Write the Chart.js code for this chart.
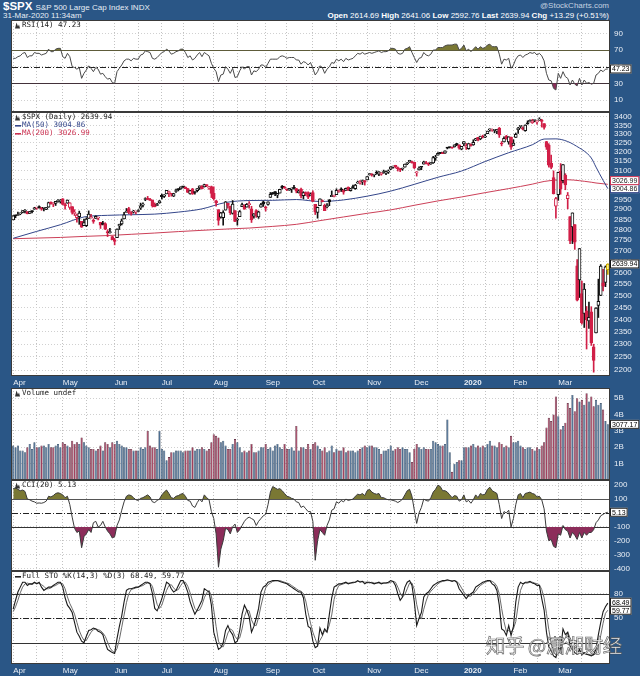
<!DOCTYPE html>
<html><head><meta charset="utf-8">
<script src="https://cdn.jsdelivr.net/npm/chart.js@4.4.1/dist/chart.umd.min.js"></script>
<style>
 html,body{margin:0;padding:0}
 body{width:640px;height:676px;position:relative;overflow:hidden;background:#2a5686;font-family:"Liberation Sans",Arial,sans-serif}
 canvas{position:absolute;left:0}
 .t{position:absolute;color:#fff;white-space:nowrap;line-height:1}
 .wm{position:absolute;left:486px;top:635px;font-family:"Noto Sans CJK SC",sans-serif;font-size:19.5px;line-height:1;white-space:nowrap;
     color:rgba(255,255,255,0.88);-webkit-text-stroke:0.7px rgba(70,70,70,0.8);letter-spacing:-0.5px}
</style></head><body>
<div class="t" style="left:3px;top:1px;font-size:11.5px;font-weight:bold">$SPX <span style="font-size:8px;font-weight:normal;color:#e8eef5">S&amp;P 500 Large Cap Index INDX</span></div>
<div class="t" style="left:3px;top:12px;font-size:8px;color:#e8eef5">31-Mar-2020 11:34am</div>
<div class="t" style="right:31px;top:2px;font-size:8px;color:#c5d2e0">@StockCharts.com</div>
<div class="t" style="right:31px;top:12px;font-size:8px"><b>Open</b> 2614.69 <b>High</b> 2641.06 <b>Low</b> 2592.76 <b>Last</b> 2639.94 <b>Chg</b> +13.29 (+0.51%)</div>
<canvas id="cRsi" width="640" height="92" style="top:20px"></canvas>
<canvas id="cPrice" width="640" height="276" style="top:112px"></canvas>
<canvas id="cVol" width="640" height="92" style="top:388px"></canvas>
<canvas id="cCci" width="640" height="91" style="top:480px"></canvas>
<canvas id="cSto" width="640" height="105" style="top:571px"></canvas>
<div class="wm">知乎 @潇湘财经</div>
<script>
// ---------- categories ----------
const months = ['Apr','May','Jun','Jul','Aug','Sep','Oct','Nov','Dec','2020','Feb','Mar'];
const tradingDays = [
  [1,2,3,4,5,8,9,10,11,12,15,16,17,18,22,23,24,25,26,29,30],
  [1,2,3,6,7,8,9,10,13,14,15,16,17,20,21,22,23,24,28,29,30,31],
  [3,4,5,6,7,10,11,12,13,14,17,18,19,20,21,24,25,26,27,28],
  [1,2,3,5,8,9,10,11,12,15,16,17,18,19,22,23,24,25,26,29,30,31],
  [1,2,5,6,7,8,9,12,13,14,15,16,19,20,21,22,23,26,27,28,29,30],
  [3,4,5,6,9,10,11,12,13,16,17,18,19,20,23,24,25,26,27,30],
  [1,2,3,4,7,8,9,10,11,14,15,16,17,18,21,22,23,24,25,28,29,30,31],
  [1,4,5,6,7,8,11,12,13,14,15,18,19,20,21,22,25,26,27,29],
  [2,3,4,5,6,9,10,11,12,13,16,17,18,19,20,23,24,26,27,30,31],
  [2,3,6,7,8,9,10,13,14,15,16,17,21,22,23,24,27,28,29,30,31],
  [3,4,5,6,7,10,11,12,13,14,18,19,20,21,24,25,26,27,28],
  [2,3,4,5,6,9,10,11,12,13,16,17,18,19,20,23,24,25,26,27,30,31]
];

// ---------- price (daily OHLC) ----------
const open = [
 2848,2868,2869,2877,2884,2889,2888,2879,2891,2901,2906,2913,2909,2905,2899,2910,2935,2925,2929,2940,2938,
 2952,2922,2930,2909,2913,2880,2859,2863,2840,2820,2820,2855,2858,2841,2855,2856,2836,2832,2830,2791,2786,2767,
 2752,2762,2818,2828,2852,2885,2903,2882,2886,2887,2889,2906,2920,2949,2952,2951,2945,2926,2919,2932,
 2971,2965,2978,2984,2979,2966,2990,3004,3003,3017,3013,3005,2978,3004,2987,2994,3009,3018,3013,3024,3007,3016,
 2981,2943,2898,2861,2858,2896,2930,2916,2880,2894,2846,2864,2913,2920,2911,2923,2902,2866,2893,2862,2910,2938,
 2910,2924,2960,2980,2989,2971,2982,3018,3013,3002,2997,3002,3008,3005,2984,3002,2969,2985,2985,2968,
 2984,2925,2885,2918,2944,2920,2912,2947,2964,2965,2974,2990,3000,2996,2996,3011,2994,3014,3004,3033,3036,3040,3046,
 3050,3078,3080,3076,3087,3081,3081,3089,3085,3091,3107,3118,3128,3115,3109,3108,3118,3136,3146,3148,
 3144,3087,3104,3120,3134,3141,3135,3136,3141,3167,3183,3195,3196,3193,3223,3227,3225,3228,3247,3240,3215,
 3245,3226,3218,3242,3239,3266,3281,3272,3285,3283,3302,3323,3321,3321,3316,3334,3248,3256,3289,3256,3283,
 3236,3281,3325,3344,3335,3319,3365,3370,3365,3378,3370,3380,3380,3360,3258,3238,3139,3063,2916,
 2974,3096,3046,3076,2954,2864,2814,2825,2631,2569,2509,2425,2436,2394,2432,2290,2345,2458,2501,2556,2558,2614
];
const high = [
 2869,2872,2886,2882,2893,2898,2888,2889,2892,2910,2910,2917,2909,2909,2909,2936,2937,2933,2940,2949,2949,
 2954,2931,2947,2933,2913,2898,2876,2891,2840,2852,2858,2892,2875,2853,2868,2861,2836,2841,2834,2800,2807,2768,
 2759,2804,2827,2852,2885,2904,2910,2888,2895,2890,2898,2931,2932,2958,2965,2955,2947,2932,2930,2944,
 2977,2974,2996,2992,2980,2981,3002,3004,3014,3017,3014,3006,2996,3006,2988,3005,3019,3020,3028,3025,3017,3018,
 3014,2945,2898,2885,2893,2939,2930,2916,2944,2894,2857,2894,2931,2923,2929,2939,2915,2879,2898,2891,2930,2941,
 2915,2938,2985,2985,2989,2980,3002,3021,3017,3003,3006,3008,3022,3006,2999,3008,2989,2988,2988,2983,
 2993,2925,2911,2953,2947,2926,2929,2949,2993,2972,3004,2998,3009,3000,3008,3014,3006,3023,3027,3044,3047,3050,3047,
 3067,3085,3084,3079,3098,3094,3088,3102,3098,3103,3120,3124,3128,3119,3111,3113,3134,3142,3155,3150,
 3144,3094,3120,3120,3150,3149,3142,3143,3176,3182,3197,3198,3199,3206,3226,3227,3226,3240,3248,3240,3231,
 3258,3247,3247,3245,3268,3276,3282,3288,3294,3298,3317,3330,3329,3327,3326,3338,3258,3285,3293,3285,3283,
 3268,3306,3338,3348,3341,3353,3376,3382,3385,3381,3376,3394,3385,3360,3259,3246,3183,3098,2960,
 3091,3137,3131,3083,2985,2863,2882,2825,2660,2711,2563,2553,2454,2473,2453,2300,2449,2572,2637,2616,2631,2641
];
const low = [
 2848,2858,2869,2873,2882,2882,2877,2879,2882,2900,2900,2905,2895,2892,2898,2910,2926,2913,2919,2936,2931,
 2923,2900,2930,2900,2876,2869,2836,2826,2811,2820,2815,2855,2856,2831,2855,2848,2806,2823,2800,2767,2783,2752,
 2728,2762,2801,2823,2852,2885,2878,2871,2881,2877,2887,2899,2912,2943,2948,2944,2911,2912,2918,2930,
 2952,2959,2978,2963,2966,2964,2985,2993,3001,3008,3004,2985,2976,2975,2976,2988,3000,3003,3013,3015,3001,2959,
 2946,2915,2822,2856,2822,2896,2905,2874,2876,2839,2822,2864,2913,2900,2911,2905,2835,2856,2860,2855,2910,2914,
 2891,2921,2960,2975,2968,2958,2982,3003,3006,2994,2996,2985,3002,2983,2982,2957,2953,2969,2953,2968,
 2938,2874,2856,2918,2937,2893,2907,2918,2964,2962,2974,2986,2990,2976,2995,2996,2992,3006,3001,3033,3028,3026,3023,
 3050,3075,3070,3066,3080,3073,3075,3085,3078,3084,3104,3112,3113,3097,3094,3101,3118,3131,3143,3139,
 3110,3070,3102,3104,3134,3135,3126,3133,3138,3154,3183,3191,3191,3192,3217,3222,3220,3227,3235,3216,3212,
 3235,3214,3215,3232,3237,3263,3261,3268,3278,3280,3302,3317,3316,3307,3302,3281,3234,3256,3271,3243,3214,
 3236,3281,3304,3334,3323,3316,3356,3370,3361,3370,3356,3379,3340,3328,3214,3118,3109,2977,2856,
 2945,2976,3035,2999,2902,2734,2734,2707,2478,2492,2381,2367,2281,2363,2295,2192,2345,2408,2500,2520,2539,2593
];
const close = [
 2867,2867,2873,2879,2893,2896,2878,2888,2888,2907,2906,2907,2900,2905,2908,2934,2927,2926,2940,2943,2946,
 2924,2918,2946,2932,2884,2880,2871,2881,2812,2834,2851,2876,2860,2840,2865,2857,2822,2826,2802,2784,2789,2752,
 2744,2803,2826,2843,2873,2886,2885,2879,2891,2887,2889,2917,2926,2954,2950,2945,2917,2913,2924,2942,
 2964,2973,2996,2990,2976,2979,2993,3000,3014,3014,3004,2985,2995,2977,2985,3005,3019,3004,3026,3020,3013,2980,
 2953,2932,2845,2882,2884,2938,2919,2883,2926,2840,2848,2889,2924,2900,2925,2923,2847,2878,2869,2887,2924,2926,
 2906,2938,2976,2979,2979,2980,3001,3010,3007,2998,3006,3006,3006,2992,2992,2967,2984,2977,2961,2977,
 2940,2887,2910,2952,2938,2893,2919,2938,2970,2966,2996,2990,2998,2986,3006,2996,3005,3010,3023,3039,3036,3047,3038,
 3067,3078,3075,3077,3085,3093,3087,3092,3094,3097,3120,3122,3120,3108,3104,3110,3134,3141,3154,3141,
 3114,3093,3113,3117,3146,3136,3133,3142,3169,3169,3192,3192,3191,3206,3221,3224,3223,3240,3240,3221,3231,
 3258,3235,3246,3237,3253,3275,3265,3288,3283,3289,3317,3330,3321,3321,3326,3295,3244,3276,3273,3284,3226,
 3249,3298,3334,3345,3328,3352,3358,3379,3374,3380,3370,3386,3373,3338,3226,3128,3116,2979,2954,
 3090,3003,3131,3024,2972,2747,2882,2741,2481,2711,2386,2529,2398,2409,2305,2237,2447,2476,2630,2541,2627,2639.94
];

// ---------- moving averages (anchor days -> values) ----------
const maAt  = [0,10,20,30,40,50,60,70,80,90,100,110,120,130,140,150,160,170,180,190,200,210,220,225,230,235,240,242,245,247,250,252];
const ma50  = [2759,2792,2824,2862,2870,2873,2876,2886,2902,2934,2944,2945,2949,2939,2947,2966,2992,3027,3064,3097,3148,3196,3240,3272,3273,3258,3222,3205,3167,3118,3048,3004.86];
const ma200 = [2757,2760,2763,2768,2772,2778,2784,2791,2797,2803,2808,2816,2826,2844,2862,2880,2897,2920,2942,2962,2984,3005,3028,3042,3049,3051,3046,3043,3038,3034,3030,3026.99];

// ---------- volume (billions) ----------
const volume = [
 2.1,2.0,2.1,1.8,1.8,1.7,2.0,2.2,1.9,2.3,2.0,2.0,2.1,2.1,2.0,2.2,2.0,2.0,2.1,2.2,2.0,
 2.3,2.2,2.1,2.0,2.4,2.2,2.3,2.2,2.6,2.3,2.1,2.0,1.9,1.9,1.8,1.9,2.1,1.8,2.3,2.2,2.0,2.3,
 2.2,2.4,2.2,2.1,2.0,2.0,1.9,1.9,1.8,1.8,1.8,2.0,1.9,2.0,3.0,2.1,2.0,2.0,1.9,3.0,
 1.9,1.8,1.2,1.4,1.7,1.7,1.8,1.8,1.8,1.7,1.8,1.8,1.8,2.0,1.8,1.9,1.9,2.0,1.9,1.8,1.9,2.3,
 2.8,2.7,2.6,2.3,2.4,2.1,1.9,1.9,2.2,2.5,2.3,2.0,1.7,1.8,1.7,1.8,2.2,1.7,1.7,1.8,2.0,2.0,
 2.2,1.9,2.0,1.8,2.1,2.2,2.0,1.9,2.2,1.9,1.9,2.0,1.8,3.3,1.8,2.0,2.0,1.9,2.2,1.9,
 2.2,2.3,2.1,1.9,1.8,2.0,1.7,1.8,2.1,1.7,1.9,1.8,1.8,2.0,1.7,1.8,1.8,1.8,1.7,1.8,1.9,2.0,2.1,
 2.0,2.1,2.1,2.0,2.0,1.9,1.6,1.8,1.8,1.9,2.1,1.8,1.9,2.0,1.9,2.0,1.9,1.9,1.7,1.1,
 1.9,2.2,2.0,1.9,2.0,1.9,1.9,1.9,2.4,2.3,2.2,2.1,2.1,2.2,3.7,1.7,0.5,1.0,1.1,1.2,1.2,
 2.0,2.0,2.0,2.1,2.2,2.0,2.1,2.0,2.1,2.0,2.2,2.4,2.1,2.1,2.0,2.3,2.2,2.0,2.1,2.0,2.7,
 2.3,2.3,2.4,2.1,2.0,1.9,2.0,2.0,1.9,1.8,2.0,1.9,2.1,2.3,3.2,3.8,3.6,4.0,5.1,
 3.9,3.1,3.3,3.5,4.7,4.4,5.2,4.2,5.0,4.8,4.9,4.6,5.3,4.8,5.1,4.5,4.9,4.6,4.7,4.3,3.6,3.4
];
const volumeLastLabel = '3077.17';

// ---------- RSI(14) ----------
const rsi = [
 60,60,62,63,66,67,61,63,63,67,66,66,64,65,66,71,68,68,71,72,72,
 62,60,66,62,50,49,47,49,36,42,46,51,48,44,49,47,41,42,38,35,36,31,
 30,44,48,52,57,59,59,57,60,59,59,64,65,69,68,67,60,59,61,64,
 67,68,71,69,65,66,68,69,71,71,67,61,63,58,60,64,67,62,67,65,63,54,
 48,44,32,40,41,50,47,42,48,37,38,45,50,47,50,50,40,45,44,47,52,52,
 49,54,59,59,59,59,62,63,62,60,61,61,61,58,58,53,56,55,52,55,
 48,40,44,51,49,42,47,50,55,54,59,57,59,56,60,58,59,60,63,66,65,67,65,
 66,67,66,67,68,69,67,68,68,69,72,72,71,66,65,66,71,72,74,67,
 61,55,60,61,67,64,63,65,70,70,73,73,73,75,76,76,76,77,77,70,72,
 76,69,71,68,71,74,71,74,72,73,76,77,74,74,74,65,53,59,58,60,48,
 52,59,63,64,61,64,65,67,66,67,64,66,63,57,42,34,33,24,22,
 42,36,44,38,36,28,34,29,27,36,28,34,30,31,29,30,40,42,46,44,47,47.23
];
const rsiTicks = [90,70,50,30,10];
const rsiLevels = [70,50,30];

// ---------- CCI(20) ----------
const cci = [
 175,180,170,160,165,155,100,95,85,80,70,72,70,75,85,120,115,125,140,145,140,
 130,110,120,60,-30,-110,-140,-130,-250,-170,-150,-120,-140,-70,-60,-100,-90,-60,-100,-130,-150,-180,
 -170,-90,-50,20,80,120,130,125,110,95,90,105,110,120,130,115,80,75,90,100,
 130,150,165,140,110,105,120,125,135,140,120,90,85,50,40,75,100,80,130,110,95,10,
 -40,-150,-390,-260,-200,-110,-120,-150,-100,-80,-140,-120,-90,-60,-40,-30,-40,-50,-90,-60,-40,-20,
 -10,60,150,190,180,170,175,160,140,120,115,105,100,80,75,40,50,30,10,10,
 -60,-340,-200,-120,-140,-160,-90,-50,20,30,80,70,90,80,100,90,95,100,120,135,130,140,125,
 160,170,150,140,135,140,110,110,100,95,95,90,85,75,85,100,130,160,170,120,
 20,-75,0,40,100,90,85,110,150,170,200,190,160,160,150,130,110,125,120,85,95,
 130,80,90,70,95,130,110,140,130,135,170,185,160,150,140,60,-40,10,0,20,-100,
 -40,60,130,140,110,140,145,150,140,135,115,120,95,30,-130,-200,-190,-240,-250,
 -150,-160,-90,-120,-130,-180,-140,-160,-190,-140,-180,-140,-160,-140,-140,-120,-70,-50,-20,-10,0,5.13
];
const cciTicks = [200,100,-100,-200,-300,-400];
const cciLevels = [100,0,-100];

// ---------- Full Stochastics ----------
const stoK = [
 61,72,82,88,94,94,90,92,92,94,92,94,88,84,86,88,88,90,92,94,94,
 88,75,66,62,57,45,33,28,22,20,28,35,36,38,37,34,33,30,20,12,10,8,
 7,25,40,53,70,84,86,86,87,88,88,90,92,94,94,92,80,62,59,66,
 74,84,94,92,86,82,84,90,96,96,90,82,70,62,55,60,66,72,86,84,82,66,
 33,22,12,14,20,35,41,34,30,20,22,35,55,66,60,52,33,40,50,62,82,88,
 90,94,95,96,96,96,95,94,93,92,90,88,86,84,82,82,75,55,40,38,
 22,14,16,38,30,37,33,55,75,88,90,92,92,93,94,92,93,94,94,96,94,95,92,
 94,94,93,92,93,94,92,93,93,94,96,95,90,80,72,76,88,94,96,90,
 70,41,50,57,76,80,82,86,90,92,94,95,96,96,97,96,95,96,94,86,82,
 78,74,78,80,82,88,90,92,94,95,96,96,92,90,84,66,37,35,29,41,29,
 40,70,88,94,92,94,94,95,93,92,90,90,74,60,33,15,10,4,2,
 14,12,37,30,33,16,12,8,6,12,5,8,6,5,4,6,12,30,45,58,64,68.49
];
const stoD = [
 58,64,72,81,88,92,93,92,91,93,93,93,91,89,86,86,87,89,90,92,93,
 92,86,76,68,62,55,45,35,28,23,23,28,33,36,37,36,35,32,28,21,14,10,
 8,13,24,39,54,69,80,85,86,87,88,89,90,92,93,93,89,78,67,62,
 66,75,84,90,91,87,84,85,90,94,94,89,81,71,62,59,60,66,75,81,84,77,
 60,40,22,16,15,23,32,37,35,28,24,26,37,52,60,59,48,42,41,51,65,77,
 87,91,93,95,96,96,96,95,94,93,92,90,88,86,84,83,80,71,57,44,
 33,25,17,23,28,35,33,42,54,73,84,90,91,92,93,93,93,93,94,95,95,95,94,
 94,93,94,93,93,93,93,93,93,93,94,95,94,88,81,76,79,86,93,93,
 85,67,54,49,61,71,79,83,86,89,92,94,95,96,96,96,96,96,95,92,87,
 82,78,77,77,80,83,87,90,92,94,95,96,95,93,89,80,62,46,34,35,33,
 37,46,66,84,91,93,93,94,94,93,92,91,85,75,56,36,19,10,5,
 7,9,21,26,33,26,20,12,9,9,8,8,6,6,5,5,7,16,29,44,56,59.77
];
const stoTicks = [80,50];
const stoLevels = [80,50,20];

const priceTicks = [2200,2250,2300,2350,2400,2450,2500,2550,2600,2650,2700,2750,2800,2850,2900,2950,3000,3050,3100,3150,3200,3250,3300,3350,3400];

// ================= build =================
const FONT = '"Liberation Sans", Arial, sans-serif';
const MONO = '"DejaVu Sans Mono", monospace';
const AXIS_TXT = '#e9eef5';
const labels = [], monthName = {}, gridIdx = new Set();
tradingDays.forEach((days, m) => {
  const base = labels.length;
  days.forEach(d => labels.push(months[m] + ' ' + d));
  monthName[base] = months[m];
  gridIdx.add(base);
  const k = days.findIndex(d => d >= 15);
  if (k > 0) gridIdx.add(base + k);
});
const N = labels.length;
const last = a => a[a.length - 1];

function xScale(showLabels) {
  return {
    type: 'category', offset: true,
    grid: { offset: false, drawTicks: false, lineWidth: 1,
      color: c => gridIdx.has(c.index) ? '#c2c2c2' : 'rgba(0,0,0,0)' },
    border: { display: false, dash: [1, 2] },
    ticks: { display: showLabels, autoSkip: false, maxRotation: 0, minRotation: 0, align: 'start', padding: 2,
      color: AXIS_TXT,
      font: c => ({ family: FONT, size: 8, weight: monthName[c.index] === '2020' ? 'bold' : 'normal' }),
      callback: (v, i) => monthName[i] || '' },
    afterFit: s => { s.height = showLabels ? 12 : 0; s.paddingLeft = 0; s.paddingRight = 0; }
  };
}
function yScale(min, max, tickVals, fmt, type) {
  return {
    type: type || 'linear', position: 'right', min, max,
    grid: { color: '#d0d0d0', drawTicks: false, lineWidth: 1 },
    border: { display: false, dash: [1, 2] },
    ticks: { color: AXIS_TXT, font: { family: FONT, size: 8 }, padding: 5, autoSkip: false,
      callback: v => fmt ? fmt(v) : String(v) },
    afterBuildTicks: s => { s.ticks = tickVals.map(v => ({ value: v })); },
    afterFit: s => { s.width = 31; s.paddingTop = 0; s.paddingBottom = 0; }
  };
}
function opts(scales) {
  return {
    responsive: false, animation: false, events: [],
    layout: { padding: { left: 12, right: 0, top: 0, bottom: 0 } },
    plugins: { legend: { display: false }, tooltip: { enabled: false } },
    scales
  };
}
function icon(c, x, y) {
  c.fillStyle = '#333';
  c.beginPath(); c.moveTo(x, y + 3); c.lineTo(x + 1.5, y - 3); c.lineTo(x + 3, y + 1); c.lineTo(x + 4, y - 1); c.lineTo(x + 5, y + 3); c.closePath(); c.fill();
}
function deco(o) {
  return {
    id: 'deco',
    beforeDraw(ch) {
      const a = ch.chartArea, c = ch.ctx;
      c.save(); c.fillStyle = '#ffffff'; c.fillRect(a.left, a.top, a.right - a.left, a.bottom - a.top); c.restore();
    },
    beforeDatasetsDraw(ch) {
      const a = ch.chartArea, c = ch.ctx, y = ch.scales.y;
      (o.levels || []).forEach((v, k) => {
        const st = o.levelStyles[k];
        const py = Math.round(y.getPixelForValue(v)) + 0.5;
        c.save(); c.strokeStyle = st.color; c.lineWidth = 1; c.setLineDash(st.dash || []);
        c.beginPath(); c.moveTo(a.left, py); c.lineTo(a.right, py); c.stroke(); c.restore();
      });
    },
    afterDraw(ch) {
      const a = ch.chartArea, c = ch.ctx, y = ch.scales.y;
      c.save();
      c.strokeStyle = '#3a3a3a'; c.lineWidth = 1;
      c.strokeRect(a.left - 0.5, a.top + 0.5, a.right - a.left + 1, a.bottom - a.top - 1);
      c.font = '7.5px ' + MONO; c.textBaseline = 'middle'; c.textAlign = 'left';
      (o.legend || []).forEach((l, k) => {
        const ty = a.top + 5.5 + k * 8;
        let tx = a.left + 3;
        if (l.swatch) { c.fillStyle = l.color; c.fillRect(tx, ty - 0.5, 6, 1.6); tx += 7; }
        else if (l.icon) { icon(c, tx, ty); tx += 7; }
        c.fillStyle = l.color; c.fillText(l.text, tx, ty);
      });
      c.font = '7px ' + FONT;
      const bx = (o.boxes || []).map(b => Object.assign({}, b, { py: y.getPixelForValue(b.v) }))
        .sort((p, q) => q.py - p.py);
      for (let k = 1; k < bx.length; k++) if (bx[k - 1].py - bx[k].py < 8) bx[k].py = bx[k - 1].py - 8;
      bx.forEach(b => {
        const w = Math.min(c.measureText(b.text).width + 4, 30);
        c.fillStyle = b.bg || '#ffffff'; c.fillRect(a.right + 1, b.py - 4.5, w, 9);
        c.strokeStyle = b.border || '#222'; c.strokeRect(a.right + 1.5, b.py - 4, w - 1, 8);
        c.fillStyle = b.color || '#000'; c.fillText(b.text, a.right + 3, b.py + 0.5);
      });
      c.restore();
    }
  };
}
const dashDot = [6, 2, 1, 2];
const OLIVE = '#7a7834', MAROON = '#8c2d5a', CLEAR = 'rgba(0,0,0,0)';

// ---- RSI ----
new Chart(document.getElementById('cRsi'), {
  type: 'line',
  data: { labels, datasets: [
    { data: rsi, borderColor: '#4a4a4a', borderWidth: 1, pointRadius: 0, fill: false },
    { data: rsi, borderColor: CLEAR, borderWidth: 1, pointRadius: 0, fill: { target: { value: rsiLevels[0] }, above: OLIVE, below: CLEAR } },
    { data: rsi, borderColor: CLEAR, borderWidth: 1, pointRadius: 0, fill: { target: { value: rsiLevels[2] }, above: CLEAR, below: MAROON } }
  ]},
  options: opts({ x: xScale(false), y: yScale(-4.4, 106, rsiTicks) }),
  plugins: [deco({
    levels: rsiLevels, levelStyles: [{ color: '#5e5c3a' }, { color: '#222', dash: dashDot }, { color: '#333' }],
    legend: [{ text: 'RSI(14) ' + last(rsi).toFixed(2), color: '#222', icon: true }],
    boxes: [{ v: last(rsi), text: last(rsi).toFixed(2) }]
  })]
});

// ---- Price ----
const seriesFrom = vals => { const s = labels.map(() => null); maAt.forEach((d, k) => s[d] = vals[k]); return s; };
const candleColor = close.map((c, i) => i === N - 1 ? '#c9a800' : (c >= (i ? close[i - 1] : open[i]) ? '#111111' : '#d11f47'));
const bodyFill = close.map((c, i) => c < open[i] ? candleColor[i] : (i === N - 1 ? '#fff27a' : '#ffffff'));
new Chart(document.getElementById('cPrice'), {
  type: 'bar',
  data: { labels, datasets: [
    { type: 'bar', data: open.map((o, i) => [o, close[i]]), backgroundColor: bodyFill, borderColor: candleColor,
      borderWidth: 1, borderSkipped: false, barThickness: 3, grouped: false, minBarLength: 1 },
    { type: 'bar', data: low.map((l, i) => [Math.min(l, open[i], close[i]), Math.max(high[i], open[i], close[i])]),
      backgroundColor: candleColor, barThickness: 1, grouped: false },
    { type: 'line', data: seriesFrom(ma50), borderColor: '#34468a', borderWidth: 1, pointRadius: 0, spanGaps: true, cubicInterpolationMode: 'monotone' },
    { type: 'line', data: seriesFrom(ma200), borderColor: '#cc4058', borderWidth: 1, pointRadius: 0, spanGaps: true, cubicInterpolationMode: 'monotone' }
  ]},
  options: opts({ x: xScale(true), y: yScale(2177.7, 3427.6, priceTicks, null, 'logarithmic') }),
  plugins: [deco({
    legend: [
      { text: '$SPX (Daily) ' + last(close).toFixed(2), color: '#222', icon: true },
      { text: 'MA(50) ' + last(ma50).toFixed(2), color: '#34468a', swatch: true },
      { text: 'MA(200) ' + last(ma200).toFixed(2), color: '#cc3050', swatch: true }
    ],
    boxes: [
      { v: last(ma200), text: last(ma200).toFixed(2), border: '#cc3050', bg: '#ffffff', color: '#222' },
      { v: last(ma50), text: last(ma50).toFixed(2), border: '#34468a', bg: '#ffffff', color: '#222' },
      { v: last(close), text: last(close).toFixed(2), border: '#111', bg: '#ffffff', color: '#000' }
    ]
  })]
});

// ---- Volume ----
const volColor = close.map((c, i) => c >= (i ? close[i - 1] : open[i]) ? '#46698e' : '#9e3a59');
const volEdge = close.map((c, i) => c >= (i ? close[i - 1] : open[i]) ? '#263e58' : '#4e1c30');
new Chart(document.getElementById('cVol'), {
  type: 'bar',
  data: { labels, datasets: [
    { data: volume, backgroundColor: volColor, borderColor: volEdge, borderWidth: 0.6, borderSkipped: false,
      categoryPercentage: 1, barPercentage: 0.92 }
  ]},
  options: opts({ x: xScale(false), y: yScale(0, 5.62, [1, 2, 3, 4, 5], v => v + 'B') }),
  plugins: [deco({
    legend: [{ text: 'Volume undef', color: '#222', icon: true }],
    boxes: [{ v: last(volume), text: volumeLastLabel }]
  })]
});

// ---- CCI ----
new Chart(document.getElementById('cCci'), {
  type: 'line',
  data: { labels, datasets: [
    { data: cci, borderColor: '#3a3a3a', borderWidth: 1, pointRadius: 0, fill: false },
    { data: cci, borderColor: CLEAR, borderWidth: 1, pointRadius: 0, fill: { target: { value: cciLevels[0] }, above: OLIVE, below: CLEAR } },
    { data: cci, borderColor: CLEAR, borderWidth: 1, pointRadius: 0, fill: { target: { value: cciLevels[2] }, above: CLEAR, below: MAROON } }
  ]},
  options: opts({ x: xScale(false), y: yScale(-417, 237, cciTicks) }),
  plugins: [deco({
    levels: cciLevels, levelStyles: [{ color: '#555' }, { color: '#222', dash: dashDot }, { color: '#333' }],
    legend: [{ text: 'CCI(20) ' + last(cci).toFixed(2), color: '#222', icon: true }],
    boxes: [{ v: last(cci), text: last(cci).toFixed(2) }]
  })]
});

// ---- Stochastics ----
new Chart(document.getElementById('cSto'), {
  type: 'line',
  data: { labels, datasets: [
    { data: stoK, borderColor: '#1a1a1a', borderWidth: 1.1, pointRadius: 0, fill: false },
    { data: stoD, borderColor: '#6a6a6a', borderWidth: 1, pointRadius: 0, fill: false }
  ]},
  options: opts({ x: xScale(true), y: yScale(-5.9, 107.7, stoTicks) }),
  plugins: [deco({
    levels: stoLevels, levelStyles: [{ color: '#333' }, { color: '#222', dash: dashDot }, { color: '#333' }],
    legend: [{ text: 'Full STO %K(14,3) %D(3) ' + last(stoK).toFixed(2) + ', ' + last(stoD).toFixed(2), color: '#222', swatch: true }],
    boxes: [{ v: last(stoK), text: last(stoK).toFixed(2) }, { v: last(stoD), text: last(stoD).toFixed(2) }]
  })]
});
</script>
</body></html>
